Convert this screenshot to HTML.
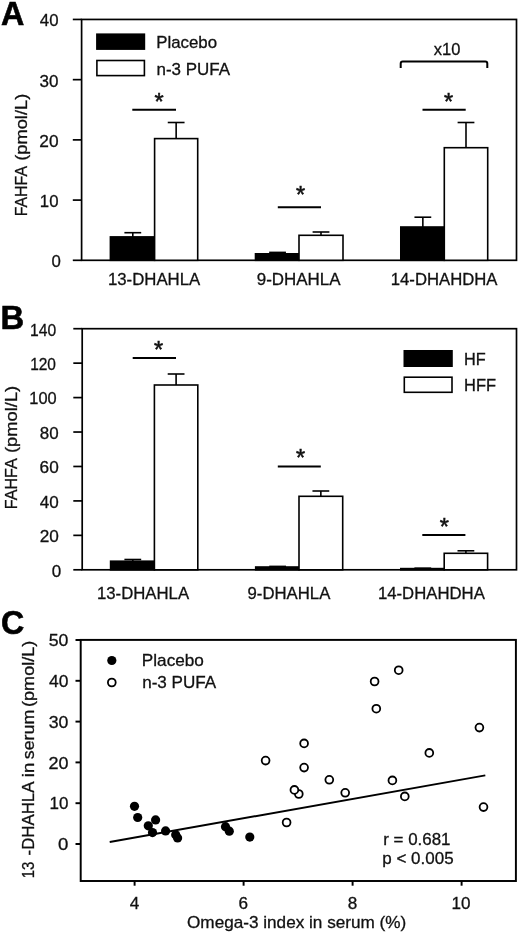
<!DOCTYPE html>
<html><head><meta charset="utf-8"><title>Figure</title>
<style>
html,body{margin:0;padding:0;background:#fff;}
svg{display:block;}
text{font-family:"Liberation Sans", sans-serif;fill:#111;stroke:#111;stroke-width:0.3px;}
.pl{font-weight:bold;fill:#000;stroke:#000;stroke-width:0.6px;}
.st{stroke-width:0.55px;}
</style></head><body>
<svg width="520" height="934" viewBox="0 0 520 934">
<rect width="520" height="934" fill="#fff"/>
<!-- Panel A -->
<text class="pl" transform="translate(1.10 24.90) scale(0.9639 1)" font-size="33.50">A</text>
<rect x="81.60" y="19.45" width="434.90" height="240.85" fill="none" stroke="#000" stroke-width="1.70"/>
<line x1="72.80" y1="260.30" x2="81.60" y2="260.30" stroke="#000" stroke-width="1.70"/>
<text class="t" transform="translate(51.58 267.20) scale(1.0000 1)" font-size="16.80">0</text>
<line x1="72.80" y1="200.09" x2="81.60" y2="200.09" stroke="#000" stroke-width="1.70"/>
<text class="t" transform="translate(39.85 206.99) scale(0.9989 1)" font-size="16.80">10</text>
<line x1="72.80" y1="139.88" x2="81.60" y2="139.88" stroke="#000" stroke-width="1.70"/>
<text class="t" transform="translate(39.29 146.78) scale(1.0297 1)" font-size="16.80">20</text>
<line x1="72.80" y1="79.66" x2="81.60" y2="79.66" stroke="#000" stroke-width="1.70"/>
<text class="t" transform="translate(39.57 86.56) scale(1.0145 1)" font-size="16.80">30</text>
<line x1="72.80" y1="19.45" x2="81.60" y2="19.45" stroke="#000" stroke-width="1.70"/>
<text class="t" transform="translate(39.84 26.35) scale(0.9997 1)" font-size="16.80">40</text>
<text class="t" transform="translate(26.50 216.34) rotate(-90) scale(0.9465 1)" font-size="16.80">FAHFA</text>
<text class="t" transform="translate(26.50 160.76) rotate(-90) scale(1.0875 1)" font-size="16.80">(pmol/L)</text>
<rect x="96.90" y="34.20" width="47.50" height="14.90" fill="#000" stroke="#000" stroke-width="1.60"/>
<rect x="96.90" y="60.50" width="47.50" height="15.10" fill="#fff" stroke="#000" stroke-width="1.60"/>
<text class="t" transform="translate(156.29 48.40) scale(1.0014 1)" font-size="16.80">Placebo</text>
<text class="t" transform="translate(156.54 75.00) scale(1.0103 1)" font-size="16.80">n-3 PUFA</text>
<line x1="132.80" y1="232.70" x2="132.80" y2="236.90" stroke="#000" stroke-width="1.60"/>
<line x1="124.40" y1="232.70" x2="141.20" y2="232.70" stroke="#000" stroke-width="1.60"/>
<line x1="176.15" y1="122.50" x2="176.15" y2="138.60" stroke="#000" stroke-width="1.60"/>
<line x1="167.75" y1="122.50" x2="184.55" y2="122.50" stroke="#000" stroke-width="1.60"/>
<rect x="110.40" y="236.90" width="44.20" height="23.40" fill="#000" stroke="#000" stroke-width="1.60"/>
<rect x="154.60" y="138.60" width="43.10" height="121.70" fill="#fff" stroke="#000" stroke-width="1.60"/>
<line x1="277.55" y1="252.40" x2="277.55" y2="253.80" stroke="#000" stroke-width="1.60"/>
<line x1="269.15" y1="252.40" x2="285.95" y2="252.40" stroke="#000" stroke-width="1.60"/>
<line x1="321.00" y1="232.00" x2="321.00" y2="235.30" stroke="#000" stroke-width="1.60"/>
<line x1="312.60" y1="232.00" x2="329.40" y2="232.00" stroke="#000" stroke-width="1.60"/>
<rect x="255.50" y="253.80" width="43.50" height="6.50" fill="#000" stroke="#000" stroke-width="1.60"/>
<rect x="299.00" y="235.30" width="44.00" height="25.00" fill="#fff" stroke="#000" stroke-width="1.60"/>
<line x1="422.85" y1="217.20" x2="422.85" y2="227.00" stroke="#000" stroke-width="1.60"/>
<line x1="414.45" y1="217.20" x2="431.25" y2="217.20" stroke="#000" stroke-width="1.60"/>
<line x1="466.00" y1="122.50" x2="466.00" y2="147.70" stroke="#000" stroke-width="1.60"/>
<line x1="457.60" y1="122.50" x2="474.40" y2="122.50" stroke="#000" stroke-width="1.60"/>
<rect x="400.80" y="227.00" width="43.50" height="33.30" fill="#000" stroke="#000" stroke-width="1.60"/>
<rect x="444.30" y="147.70" width="43.40" height="112.60" fill="#fff" stroke="#000" stroke-width="1.60"/>
<line x1="132.30" y1="109.80" x2="176.00" y2="109.80" stroke="#000" stroke-width="2.10"/>
<text class="st" transform="translate(154.51 109.82) scale(1.0000 1)" font-size="23.50">*</text>
<line x1="277.80" y1="207.20" x2="321.00" y2="207.20" stroke="#000" stroke-width="2.10"/>
<text class="st" transform="translate(295.91 203.12) scale(1.0000 1)" font-size="23.50">*</text>
<line x1="422.50" y1="109.80" x2="465.70" y2="109.80" stroke="#000" stroke-width="2.10"/>
<text class="st" transform="translate(443.91 109.82) scale(1.0000 1)" font-size="23.50">*</text>
<path d="M400.7 68 V63.4 Q400.7 61.4 402.7 61.4 H485.3 Q487.3 61.4 487.3 63.4 V68" fill="none" stroke="#000" stroke-width="2"/>
<text class="t" transform="translate(433.80 54.70) scale(0.9824 1)" font-size="16.80">x10</text>
<text class="t" transform="translate(107.95 284.70) scale(0.9993 1)" font-size="16.80">13-DHAHLA</text>
<text class="t" transform="translate(256.71 284.70) scale(1.0087 1)" font-size="16.80">9-DHAHLA</text>
<text class="t" transform="translate(390.76 284.60) scale(0.9945 1)" font-size="16.80">14-DHAHDHA</text>
<!-- Panel B -->
<text class="pl" transform="translate(0.55 329.30) scale(0.9791 1)" font-size="33.50">B</text>
<rect x="82.20" y="328.70" width="434.30" height="241.10" fill="none" stroke="#000" stroke-width="1.70"/>
<line x1="73.30" y1="569.80" x2="82.20" y2="569.80" stroke="#000" stroke-width="1.70"/>
<text class="t" transform="translate(51.77 576.70) scale(1.0119 1)" font-size="16.80">0</text>
<line x1="73.30" y1="535.36" x2="82.20" y2="535.36" stroke="#000" stroke-width="1.70"/>
<text class="t" transform="translate(39.69 542.26) scale(1.0240 1)" font-size="16.80">20</text>
<line x1="73.30" y1="500.91" x2="82.20" y2="500.91" stroke="#000" stroke-width="1.70"/>
<text class="t" transform="translate(39.83 507.81) scale(1.0163 1)" font-size="16.80">40</text>
<line x1="73.30" y1="466.47" x2="82.20" y2="466.47" stroke="#000" stroke-width="1.70"/>
<text class="t" transform="translate(39.59 473.37) scale(1.0240 1)" font-size="16.80">60</text>
<line x1="73.30" y1="432.03" x2="82.20" y2="432.03" stroke="#000" stroke-width="1.70"/>
<text class="t" transform="translate(39.87 438.93) scale(1.0088 1)" font-size="16.80">80</text>
<line x1="73.30" y1="397.59" x2="82.20" y2="397.59" stroke="#000" stroke-width="1.70"/>
<text class="t" transform="translate(29.28 404.49) scale(0.9751 1)" font-size="16.80">100</text>
<line x1="73.30" y1="363.14" x2="82.20" y2="363.14" stroke="#000" stroke-width="1.70"/>
<text class="t" transform="translate(30.13 370.04) scale(0.9224 1)" font-size="16.80">120</text>
<line x1="73.30" y1="328.70" x2="82.20" y2="328.70" stroke="#000" stroke-width="1.70"/>
<text class="t" transform="translate(30.12 335.60) scale(0.9337 1)" font-size="16.80">140</text>
<text class="t" transform="translate(16.70 509.26) rotate(-90) scale(0.9599 1)" font-size="16.80">FAHFA</text>
<text class="t" transform="translate(16.70 453.06) rotate(-90) scale(1.0925 1)" font-size="16.80">(pmol/L)</text>
<rect x="404.30" y="350.80" width="47.70" height="15.40" fill="#000" stroke="#000" stroke-width="1.60"/>
<rect x="404.30" y="377.20" width="47.70" height="15.10" fill="#fff" stroke="#000" stroke-width="1.60"/>
<text class="t" transform="translate(464.03 365.30) scale(0.9692 1)" font-size="16.80">HF</text>
<text class="t" transform="translate(464.01 391.40) scale(0.9807 1)" font-size="16.80">HFF</text>
<line x1="132.80" y1="559.50" x2="132.80" y2="561.20" stroke="#000" stroke-width="1.60"/>
<line x1="124.40" y1="559.50" x2="141.20" y2="559.50" stroke="#000" stroke-width="1.60"/>
<line x1="176.10" y1="374.00" x2="176.10" y2="385.00" stroke="#000" stroke-width="1.60"/>
<line x1="167.70" y1="374.00" x2="184.50" y2="374.00" stroke="#000" stroke-width="1.60"/>
<rect x="110.60" y="561.20" width="43.80" height="8.60" fill="#000" stroke="#000" stroke-width="1.60"/>
<rect x="154.40" y="385.00" width="43.40" height="184.80" fill="#fff" stroke="#000" stroke-width="1.60"/>
<line x1="277.65" y1="566.40" x2="277.65" y2="567.00" stroke="#000" stroke-width="1.60"/>
<line x1="269.25" y1="566.40" x2="286.05" y2="566.40" stroke="#000" stroke-width="1.60"/>
<line x1="320.85" y1="491.00" x2="320.85" y2="496.30" stroke="#000" stroke-width="1.60"/>
<line x1="312.45" y1="491.00" x2="329.25" y2="491.00" stroke="#000" stroke-width="1.60"/>
<rect x="255.70" y="567.00" width="43.30" height="2.80" fill="#000" stroke="#000" stroke-width="1.60"/>
<rect x="299.00" y="496.30" width="43.70" height="73.50" fill="#fff" stroke="#000" stroke-width="1.60"/>
<line x1="422.80" y1="568.20" x2="422.80" y2="568.60" stroke="#000" stroke-width="1.60"/>
<line x1="414.40" y1="568.20" x2="431.20" y2="568.20" stroke="#000" stroke-width="1.60"/>
<line x1="465.90" y1="550.80" x2="465.90" y2="553.30" stroke="#000" stroke-width="1.60"/>
<line x1="457.50" y1="550.80" x2="474.30" y2="550.80" stroke="#000" stroke-width="1.60"/>
<rect x="400.80" y="568.60" width="43.40" height="1.20" fill="#000" stroke="#000" stroke-width="1.60"/>
<rect x="444.20" y="553.30" width="43.40" height="16.50" fill="#fff" stroke="#000" stroke-width="1.60"/>
<line x1="132.70" y1="358.00" x2="176.00" y2="358.00" stroke="#000" stroke-width="2.10"/>
<text class="st" transform="translate(154.01 358.22) scale(1.0000 1)" font-size="23.50">*</text>
<line x1="277.80" y1="466.50" x2="320.80" y2="466.50" stroke="#000" stroke-width="2.10"/>
<text class="st" transform="translate(295.91 465.82) scale(1.0000 1)" font-size="23.50">*</text>
<line x1="422.30" y1="535.00" x2="465.40" y2="535.00" stroke="#000" stroke-width="2.10"/>
<text class="st" transform="translate(439.81 535.02) scale(1.0000 1)" font-size="23.50">*</text>
<text class="t" transform="translate(96.95 599.00) scale(0.9971 1)" font-size="16.80">13-DHAHLA</text>
<text class="t" transform="translate(247.52 599.00) scale(0.9966 1)" font-size="16.80">9-DHAHLA</text>
<text class="t" transform="translate(377.95 599.00) scale(0.9964 1)" font-size="16.80">14-DHAHDHA</text>
<!-- Panel C -->
<text class="pl" transform="translate(0.90 634.30) scale(0.9597 1)" font-size="33.50">C</text>
<rect x="80.70" y="639.90" width="435.20" height="241.10" fill="none" stroke="#000" stroke-width="1.95"/>
<line x1="75.50" y1="844.00" x2="80.70" y2="844.00" stroke="#000" stroke-width="1.95"/>
<text class="t" transform="translate(58.12 850.20) scale(1.1071 1)" font-size="16.80">0</text>
<line x1="75.50" y1="803.20" x2="80.70" y2="803.20" stroke="#000" stroke-width="1.95"/>
<text class="t" transform="translate(49.54 809.40) scale(1.0105 1)" font-size="16.80">10</text>
<line x1="75.50" y1="762.40" x2="80.70" y2="762.40" stroke="#000" stroke-width="1.95"/>
<text class="t" transform="translate(48.46 768.60) scale(1.0697 1)" font-size="16.80">20</text>
<line x1="75.50" y1="721.60" x2="80.70" y2="721.60" stroke="#000" stroke-width="1.95"/>
<text class="t" transform="translate(48.75 727.80) scale(1.0539 1)" font-size="16.80">30</text>
<line x1="75.50" y1="680.80" x2="80.70" y2="680.80" stroke="#000" stroke-width="1.95"/>
<text class="t" transform="translate(49.03 687.00) scale(1.0386 1)" font-size="16.80">40</text>
<line x1="75.50" y1="640.00" x2="80.70" y2="640.00" stroke="#000" stroke-width="1.95"/>
<text class="t" transform="translate(48.75 646.20) scale(1.0539 1)" font-size="16.80">50</text>
<line x1="134.60" y1="881.00" x2="134.60" y2="885.70" stroke="#000" stroke-width="1.95"/>
<text class="t" transform="translate(129.71 908.60) scale(1.0200 1)" font-size="16.80">4</text>
<line x1="243.60" y1="881.00" x2="243.60" y2="885.70" stroke="#000" stroke-width="1.95"/>
<text class="t" transform="translate(238.58 908.60) scale(1.0200 1)" font-size="16.80">6</text>
<line x1="352.60" y1="881.00" x2="352.60" y2="885.70" stroke="#000" stroke-width="1.95"/>
<text class="t" transform="translate(347.71 908.60) scale(1.0200 1)" font-size="16.80">8</text>
<line x1="461.60" y1="881.00" x2="461.60" y2="885.70" stroke="#000" stroke-width="1.95"/>
<text class="t" transform="translate(451.55 908.60) scale(1.0200 1)" font-size="16.80">10</text>
<text class="t" transform="translate(33.50 878.34) rotate(-90) scale(0.9067 1)" font-size="16.50">13</text>
<text class="t" transform="translate(33.50 855.43) rotate(-90) scale(1.0209 1)" font-size="16.50">-DHAHLA</text>
<text class="t" transform="translate(33.50 777.17) rotate(-90) scale(1.1300 1)" font-size="16.50">in</text>
<text class="t" transform="translate(33.50 759.18) rotate(-90) scale(1.0776 1)" font-size="16.50">serum</text>
<text class="t" transform="translate(33.50 706.95) rotate(-90) scale(1.0970 1)" font-size="16.50">(pmol/L)</text>
<text class="t" transform="translate(187.00 928.20) scale(1.0221 1)" font-size="16.80">Omega-3 index in serum (%)</text>
<line x1="109.70" y1="842.00" x2="485.30" y2="775.40" stroke="#000" stroke-width="1.90"/>
<circle cx="134.5" cy="806.3" r="4.6" fill="#000"/>
<circle cx="137.7" cy="817.5" r="4.6" fill="#000"/>
<circle cx="148.3" cy="825.8" r="4.6" fill="#000"/>
<circle cx="155.6" cy="819.9" r="4.6" fill="#000"/>
<circle cx="152.5" cy="832.6" r="4.6" fill="#000"/>
<circle cx="165.6" cy="830.9" r="4.6" fill="#000"/>
<circle cx="175.7" cy="834.8" r="4.6" fill="#000"/>
<circle cx="177.6" cy="837.9" r="4.6" fill="#000"/>
<circle cx="225.5" cy="826.7" r="4.6" fill="#000"/>
<circle cx="229.3" cy="831.2" r="4.6" fill="#000"/>
<circle cx="249.8" cy="837.1" r="4.6" fill="#000"/>
<circle cx="265.6" cy="760.6" r="3.9" fill="#fff" stroke="#000" stroke-width="1.8"/>
<circle cx="304.1" cy="743.4" r="3.9" fill="#fff" stroke="#000" stroke-width="1.8"/>
<circle cx="304.1" cy="767.6" r="3.9" fill="#fff" stroke="#000" stroke-width="1.8"/>
<circle cx="298.8" cy="794.0" r="3.9" fill="#fff" stroke="#000" stroke-width="1.8"/>
<circle cx="294.4" cy="789.9" r="3.9" fill="#fff" stroke="#000" stroke-width="1.8"/>
<circle cx="286.6" cy="822.5" r="3.9" fill="#fff" stroke="#000" stroke-width="1.8"/>
<circle cx="329.3" cy="779.8" r="3.9" fill="#fff" stroke="#000" stroke-width="1.8"/>
<circle cx="345.2" cy="792.8" r="3.9" fill="#fff" stroke="#000" stroke-width="1.8"/>
<circle cx="374.6" cy="681.5" r="3.9" fill="#fff" stroke="#000" stroke-width="1.8"/>
<circle cx="398.7" cy="670.2" r="3.9" fill="#fff" stroke="#000" stroke-width="1.8"/>
<circle cx="376.3" cy="708.7" r="3.9" fill="#fff" stroke="#000" stroke-width="1.8"/>
<circle cx="392.4" cy="780.4" r="3.9" fill="#fff" stroke="#000" stroke-width="1.8"/>
<circle cx="404.8" cy="796.4" r="3.9" fill="#fff" stroke="#000" stroke-width="1.8"/>
<circle cx="429.3" cy="752.9" r="3.9" fill="#fff" stroke="#000" stroke-width="1.8"/>
<circle cx="479.4" cy="727.6" r="3.9" fill="#fff" stroke="#000" stroke-width="1.8"/>
<circle cx="483.5" cy="807.1" r="3.9" fill="#fff" stroke="#000" stroke-width="1.8"/>
<circle cx="111.8" cy="660.5" r="4.6" fill="#000"/>
<circle cx="111.8" cy="682.5" r="3.9" fill="#fff" stroke="#000" stroke-width="1.8"/>
<text class="t" transform="translate(141.86 665.80) scale(1.0218 1)" font-size="16.80">Placebo</text>
<text class="t" transform="translate(142.13 687.90) scale(1.0173 1)" font-size="16.80">n-3 PUFA</text>
<text class="t" transform="translate(383.24 845.40) scale(1.0069 1)" font-size="16.80">r = 0.681</text>
<text class="t" transform="translate(382.34 864.10) scale(1.0116 1)" font-size="16.80">p &lt; 0.005</text>
</svg>
</body></html>
